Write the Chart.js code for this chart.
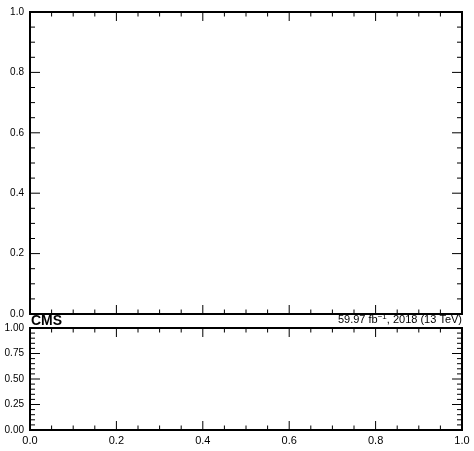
<!DOCTYPE html>
<html lang="en">
  <head>
    <meta charset="UTF-8" />
    <title>CMS ratio frame</title>
    <script src="https://cdn.jsdelivr.net/npm/chart.js"></script>
    <style>
      body {
        margin: 0;
        background: #fff;
      }
      #wrap {
        position: relative;
        width: 474px;
        height: 451px;
      }
      #wrap canvas {
        position: absolute;
        left: 0;
        top: 0;
      }
    </style>
  </head>
  <body>
    <div id="wrap">
      <canvas id="mainChart" width="474" height="451"></canvas>
      <canvas id="ratioChart" width="474" height="451"></canvas>
    </div>

    <script>
      // the reference frame is empty: no histograms, no points
      const mainPoints = [];
      const ratioPoints = [];

      const xMajorTicks = [0.0, 0.2, 0.4, 0.6, 0.8, 1.0];
      const xMinorTicks = [
        0.05, 0.1, 0.15, 0.25, 0.3, 0.35, 0.45, 0.5, 0.55,
        0.65, 0.7, 0.75, 0.85, 0.9, 0.95,
      ];
      const mainYMajorTicks = [0.0, 0.2, 0.4, 0.6, 0.8, 1.0];
      const mainYMinorTicks = [
        0.05, 0.1, 0.15, 0.25, 0.3, 0.35, 0.45, 0.5, 0.55,
        0.65, 0.7, 0.75, 0.85, 0.9, 0.95,
      ];
      const ratioYMajorTicks = [0.0, 0.25, 0.5, 0.75, 1.0];
      const ratioYMinorTicks = [
        0.05, 0.1, 0.15, 0.2, 0.3, 0.35, 0.4, 0.45, 0.55, 0.6,
        0.65, 0.7, 0.8, 0.85, 0.9, 0.95,
      ];

      const cmsLabel = "CMS";
      const lumiParts = ["59.97 fb", "\u22121", ", 2018 (13 TeV)"];

      const FONT = "'Liberation Sans', Arial, Helvetica, sans-serif";

      // ROOT style frame: ticks pointing inwards on all four sides
      const rootFrame = {
        id: "rootFrame",
        afterDraw(chart, args, opts) {
          const { ctx, chartArea: a } = chart;
          const x = chart.scales.x;
          const y = chart.scales.y;
          ctx.save();
          ctx.strokeStyle = "#000";
          ctx.lineWidth = 1;
          ctx.beginPath();
          const xTick = (v, len) => {
            const px = x.getPixelForValue(v);
            ctx.moveTo(px, a.bottom);
            ctx.lineTo(px, a.bottom - len);
            ctx.moveTo(px, a.top);
            ctx.lineTo(px, a.top + len);
          };
          const yTick = (v, len) => {
            const py = y.getPixelForValue(v);
            ctx.moveTo(a.left, py);
            ctx.lineTo(a.left + len, py);
            ctx.moveTo(a.right, py);
            ctx.lineTo(a.right - len, py);
          };
          opts.xMajor.forEach((v) => xTick(v, 9));
          opts.xMinor.forEach((v) => xTick(v, 4.5));
          opts.yMajor.forEach((v) => yTick(v, 10));
          opts.yMinor.forEach((v) => yTick(v, 5));
          ctx.stroke();

          ctx.lineWidth = 2;
          ctx.strokeRect(a.left, a.top, a.right - a.left, a.bottom - a.top);

          if (opts.labels) {
            ctx.fillStyle = "#000";
            ctx.textBaseline = "alphabetic";
            ctx.textAlign = "left";
            ctx.font = "bold 14px " + FONT;
            ctx.fillText(cmsLabel, a.left + 1, a.top - 3);

            const big = "11px " + FONT;
            const small = "8px " + FONT;
            ctx.font = big;
            const w0 = ctx.measureText(lumiParts[0]).width;
            const w2 = ctx.measureText(lumiParts[2]).width;
            ctx.font = small;
            const w1 = ctx.measureText(lumiParts[1]).width;
            let tx = a.right - (w0 + w1 + w2);
            const base = a.top - 5;
            ctx.font = big;
            ctx.fillText(lumiParts[0], tx, base);
            tx += w0;
            ctx.font = small;
            ctx.fillText(lumiParts[1], tx, base - 4);
            tx += w1;
            ctx.font = big;
            ctx.fillText(lumiParts[2], tx, base);
          }
          ctx.restore();
        },
      };

      function yAxis(ticks, digits) {
        return {
          type: "linear",
          min: 0,
          max: 1,
          grid: { display: false, drawTicks: false },
          border: { display: false },
          ticks: {
            padding: 6,
            color: "#000",
            font: { family: FONT, size: 10 },
            callback: (v) => Number(v).toFixed(digits),
          },
          afterBuildTicks: (s) => {
            s.ticks = ticks.map((v) => ({ value: v }));
          },
          afterFit: (s) => {
            s.width = 30;
          },
        };
      }

      new Chart(document.getElementById("mainChart"), {
        type: "scatter",
        data: { datasets: [{ data: mainPoints }] },
        options: {
          responsive: false,
          animation: false,
          events: [],
          layout: { padding: { top: 10, right: 12, bottom: 137, left: 0 } },
          plugins: {
            legend: { display: false },
            tooltip: { enabled: false },
            rootFrame: {
              xMajor: xMajorTicks,
              xMinor: xMinorTicks,
              yMajor: mainYMajorTicks,
              yMinor: mainYMinorTicks,
              labels: false,
            },
          },
          scales: {
            x: { type: "linear", min: 0, max: 1, display: false },
            y: yAxis(mainYMajorTicks, 1),
          },
        },
        plugins: [rootFrame],
      });

      new Chart(document.getElementById("ratioChart"), {
        type: "scatter",
        data: { datasets: [{ data: ratioPoints }] },
        options: {
          responsive: false,
          animation: false,
          events: [],
          layout: { padding: { top: 328, right: 12, bottom: 0, left: 0 } },
          plugins: {
            legend: { display: false },
            tooltip: { enabled: false },
            rootFrame: {
              xMajor: xMajorTicks,
              xMinor: xMinorTicks,
              yMajor: ratioYMajorTicks,
              yMinor: ratioYMinorTicks,
              labels: true,
            },
          },
          scales: {
            x: {
              type: "linear",
              min: 0,
              max: 1,
              grid: { display: false, drawTicks: false },
              border: { display: false },
              ticks: {
                padding: 4,
                maxRotation: 0,
                autoSkip: false,
                color: "#000",
                font: { family: FONT, size: 11 },
                callback: (v) => Number(v).toFixed(1),
              },
              afterBuildTicks: (s) => {
                s.ticks = xMajorTicks.map((v) => ({ value: v }));
              },
              afterFit: (s) => {
                s.height = 21;
              },
            },
            y: yAxis(ratioYMajorTicks, 2),
          },
        },
        plugins: [rootFrame],
      });
    </script>
  </body>
</html>
